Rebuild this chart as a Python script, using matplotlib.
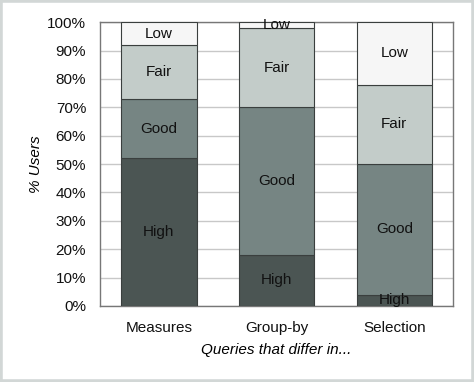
import numpy as np
import matplotlib.pyplot as plt
from matplotlib.patches import Rectangle

plt.rcParams['font.family'] = ['Liberation Sans', 'DejaVu Sans']

# data
queries = ['Measures', 'Group-by', 'Selection']
levels = ['High', 'Good', 'Fair', 'Low']
high = [52, 18, 4]
good = [21, 52, 46]
fair = [19, 28, 28]
low = [8, 2, 22]
colors = ['#4b5553', '#768583', '#c3ccc9', '#f6f6f6']

fig = plt.figure(figsize=(4.74, 3.82), dpi=100)
ax = fig.add_axes([0.211, 0.199, 0.745, 0.743])

x = np.arange(len(queries))
bottom = np.zeros(len(queries))
for lvl, vals, col in zip(levels, [high, good, fair, low], colors):
    vals = np.array(vals, dtype=float)
    bars = ax.bar(x, vals, 0.64, bottom=bottom, color=col,
                  edgecolor='#3a3f3e', linewidth=0.8, zorder=3)
    for xi, b, v in zip(x, bottom, vals):
        ax.text(xi, b + v / 2, lvl, ha='center', va='center',
                fontsize=11, color='#111111', zorder=4)
    bottom += vals

ax.set_xlim(-0.5, 2.5)
ax.set_ylim(0, 100)
ax.set_yticks(np.arange(0, 101, 10))
ax.set_yticklabels([f'{v}%' for v in range(0, 101, 10)])
ax.set_xticks(x)
ax.set_xticklabels(queries)
ax.tick_params(axis='both', length=0, labelsize=11, colors='#111111')
ax.tick_params(axis='y', pad=10)
ax.tick_params(axis='x', pad=10.5)
ax.yaxis.grid(True, color='#c8c8c8', linewidth=1.0, zorder=0)
for s in ax.spines.values():
    s.set_color('#777777')
    s.set_linewidth(1.0)

ax.set_ylabel('% Users', fontsize=11, style='italic', labelpad=3)
ax.set_xlabel('Queries that differ in...', fontsize=11, style='italic', labelpad=6)

# light grey frame around the whole picture
fig.patches.append(Rectangle((0, 0), 1, 1, transform=fig.transFigure,
                             fill=False, edgecolor='#d2d7d6', linewidth=4))

fig.savefig('out.png', dpi=100)
